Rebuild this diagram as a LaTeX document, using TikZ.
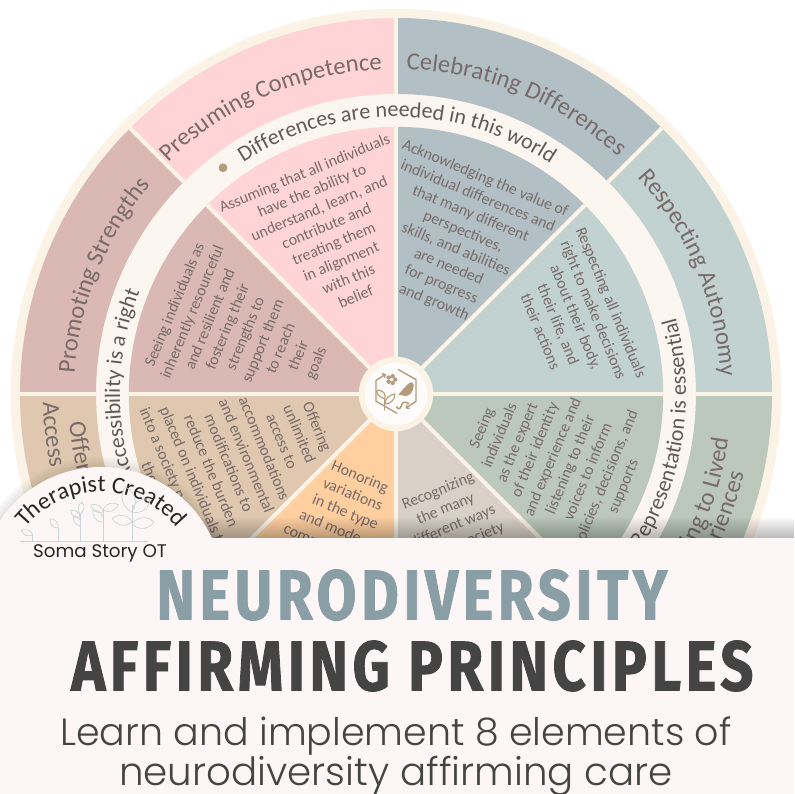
\documentclass[tikz,border=0pt]{standalone}
\usepackage{fontspec}
\usepackage{xcolor}
\usetikzlibrary{arrows.meta,decorations.text,fadings}
\setmainfont{Carlito}
\newfontfamily\headfont[FakeStretch=0.82,LetterSpace=6.8,FakeBold=1.2]{Fira Sans}
\newfontfamily\subfont{Poppins Light}
\newfontfamily\badgesub{Poppins}
\definecolor{creamedge}{HTML}{FCF3E7}
\definecolor{creamband}{HTML}{FCF6F1}
\definecolor{tealtone}{HTML}{C2D2D0}
\definecolor{bluetone}{HTML}{B2C0C5}
\definecolor{pinktone}{HTML}{FFD4D7}
\definecolor{rosetone}{HTML}{DAB9B4}
\definecolor{tantone}{HTML}{DFC8AF}
\definecolor{orangetone}{HTML}{FFCFA0}
\definecolor{greigetone}{HTML}{D9D1C8}
\definecolor{sagetone}{HTML}{BCC8BC}
\definecolor{inkbrown}{HTML}{786B69}
\definecolor{inkband}{HTML}{5F5A55}
\definecolor{iconbrown}{HTML}{B49B7C}
\definecolor{panelpink}{HTML}{FDF6F6}
\definecolor{titleblue}{HTML}{8A9EA6}
\definecolor{titledark}{HTML}{444444}
\definecolor{sproutgrey}{HTML}{C9D5D8}
\newcommand{\ringfont}{\fontsize{17.5}{17.5}\selectfont\color{inkbrown}}
\newcommand{\bandfont}{\fontsize{15.7}{15.7}\selectfont\color{inkband}}
\newcommand{\badgefont}{\fontsize{17}{17}\selectfont\color{black!85}}
% text on an arc: format, from angle, to angle, radius, alignment, text
\newcommand{\arctext}[6]{\path[decorate,decoration={text along path,text={|#1|#6},text align=#5}]
    (#2:#4) arc[start angle=#2,end angle=#3,radius=#4];}
\tikzset{
    wedgetext/.style={anchor=north,align=center,inner sep=0pt,text=inkbrown,
        font=\fontsize{11.3}{13.6}\selectfont},
    gapline/.style={creamedge,line width=3pt},
    iconline/.style={iconbrown,line width=1pt,line cap=round,line join=round},
    sprout/.style={sproutgrey,line width=0.5pt}
}
\begin{document}
\begin{tikzpicture}
    \useasboundingbox (-9.9,-10) rectangle (9.95,9.85);
    \clip (-9.9,-10) rectangle (9.95,9.85);
    \fill[white] (-9.9,-10) rectangle (9.95,9.85);

    \def\rcore{6.68}
    \def\rband{7.5}
    \def\rring{9.4}

    % Wheel base
    \fill[creamedge] (0,0) circle (9.63);
    \fill[creamband] (0,0) circle (\rband);

    % Sectors
    \foreach \ang/\tone in {0/tealtone,45/bluetone,90/pinktone,135/rosetone,
                            180/tantone,225/orangetone,270/greigetone,315/sagetone} {
        \fill[\tone] (0,0) -- (\ang:\rcore) arc[start angle=\ang,delta angle=45,radius=\rcore] -- cycle;
        \fill[\tone] (\ang:\rband) arc[start angle=\ang,delta angle=45,radius=\rband]
            -- ({\ang+45}:\rring) arc[start angle=\ang+45,delta angle=-45,radius=\rring] -- cycle;
    }
    \foreach \ang in {0,45,...,315} {
        \draw[gapline] (0,0) -- (\ang:\rcore);
        \draw[gapline] (\ang:\rband) -- (\ang:\rring);
    }

    % Outer ring labels
    \arctext{\ringfont}{143.5}{83.5}{8.12}{center}{Presuming Competence}
    \arctext{\ringfont}{96}{39}{8.12}{center}{Celebrating Differences}
    \arctext{\ringfont}{52}{-7}{8.12}{center}{Respecting Autonomy}
    \arctext{\ringfont}{188}{128}{8.05}{center}{Promoting Strengths}
    \arctext{\ringfont}{-50}{5}{8.38}{center}{Listening to Lived}
    \arctext{\ringfont}{-50}{5}{8.92}{center}{Experiences}
    \arctext{\ringfont}{185}{230}{8.2}{left}{Offering}
    \arctext{\ringfont}{181.3}{230}{8.83}{left}{Access}

    % Band labels
    \fill[iconbrown] (127.4:7.12) circle (0.11);
    \arctext{\bandfont}{130}{49.6}{6.93}{center}{Differences are needed in this world}
    \arctext{\bandfont}{205}{151}{6.9}{center}{Accessibility is a right}
    \arctext{\bandfont}{-40}{23}{7.25}{center}{Representation is essential}

    % Sector texts
    \node[wedgetext,rotate=22.5] (competence) at (112.5:6.13)
        {Assuming that all individuals\\have the ability to\\understand, learn, and\\contribute and\\treating them\\in alignment\\with this\\belief};
    \node[wedgetext,rotate=67.5] (strengths) at (158:6.13)
        {Seeing individuals as\\inherently resourceful\\and resilient and\\fostering their\\strengths to\\support them\\to reach\\their\\goals};
    \node[wedgetext,rotate=-22.5] (differences) at (67.5:6.0)
        {Acknowledging the value of\\individual differences and\\that many different\\perspectives,\\skills, and abilities\\are needed\\for progress\\and growth};
    \node[wedgetext,rotate=-67.5] (autonomy) at (23:6.0)
        {Respecting all individuals\\right to make decisions\\about their body,\\their life, and\\their actions};
    \node[wedgetext,rotate=67.5] (experiences) at (-21.5:2.15)
        {Seeing\\individuals\\as the expert\\of their identity\\and experience and\\listening to their\\voices to inform\\policies, decisions, and\\supports};
    \node[wedgetext,rotate=22.5] (ways) at (-66.5:2.48)
        {Recognizing\\the many\\different ways\\\hphantom{xxxxxxx}society};
    \node[wedgetext,rotate=-22.5] (variations) at (246.5:2.1)
        {Honoring\\variations\\in the type\\and mode of\\communication};
    \node[wedgetext,rotate=-67.5] (access) at (202.5:1.98)
        {Offering\\unlimited\\access to\\accommodations\\and environmental\\modifications to\\reduce the burden\\placed on individuals to\\into a society not\hphantom{ built for}\\the\hphantom{ needs}};

    % Hub
    \fill[creamedge] (0,0) circle (0.93);
    \fill[white!70!creamband] (0,0) circle (0.78);
    \draw[iconline,-{Straight Barb[length=1.6pt,width=3.4pt]}]
        (0.06,0.61) -- (0.5,0.36) -- (0.5,-0.18) -- (0.24,-0.36);
    \draw[iconline,-{Straight Barb[length=1.6pt,width=3.4pt]}]
        (0.02,-0.48) -- (-0.5,-0.18) -- (-0.5,0.34) -- (-0.25,0.5);
    \foreach \ang in {0,72,...,288}
        \fill[iconbrown] ([shift={(-0.11,0.36)}]\ang:0.09) circle (0.055);
    \draw[iconline,line width=0.8pt] (-0.28,-0.4) -- (-0.28,-0.12);
    \draw[iconline,line width=0.8pt] (-0.28,-0.12) .. controls (-0.5,-0.05) and (-0.5,0.08) .. (-0.45,0.1)
        .. controls (-0.3,0.08) and (-0.25,0) .. (-0.28,-0.12);
    \draw[iconline,line width=0.8pt] (-0.28,-0.25) .. controls (-0.1,-0.25) and (-0.02,-0.1) .. (-0.03,0)
        .. controls (-0.15,-0.02) and (-0.27,-0.1) .. (-0.28,-0.25);
    \fill[iconbrown] (0.06,-0.02) .. controls (0.14,0.08) and (0.22,0.18) .. (0.34,0.28)
        .. controls (0.4,0.32) and (0.46,0.25) .. (0.44,0.18)
        .. controls (0.42,0.05) and (0.36,-0.02) .. (0.26,-0.05) -- cycle;
    \draw[iconline,line width=1.1pt] (0.02,-0.32) .. controls (0.05,-0.42) and (0.12,-0.36) .. (0.14,-0.28)
        .. controls (0.16,-0.2) and (0.22,-0.18) .. (0.32,-0.24);

    % Bottom panel with its shadow
    \fill[black,path fading=north,fill opacity=0.27] (-9.9,-3.6) rectangle (9.95,-3.05);
    \fill[panelpink] (-9.9,-10) rectangle (9.95,-3.6);

    % Badge
    \foreach \grow in {0.05,0.1,...,0.3}
        \fill[black,fill opacity=0.018] (-7.375,-4.875) circle ({3.05+\grow});
    \fill[panelpink] (-7.375,-4.875) circle (3.05);
    \fill[panelpink] (-9.9,-10) rectangle (9.95,-3.6);
    \begin{scope}[shift={(-7.375,-4.875)}]
        \arctext{\badgefont}{165}{15}{2.43}{center}{Therapist Created}
    \end{scope}
    \node[font=\badgesub\fontsize{13}{13}\selectfont,text=black!85] (somastory) at (-7.4,-3.975) {Soma Story OT};

    % Sprouts on their ground line
    \draw[sprout] (-9.4,-3.675) -- (-6.2,-3.675);
    \foreach \xbase/\ybase in {-9.08/0.15,-8.45/0.33,-7.9/0.7,-7.32/0.82,-6.6/0.9}
        \draw[sprout] (\xbase,-3.675) -- (\xbase,{-3.675+\ybase});
    \foreach \xleaf/\yleaf/\tilt/\size in {-9.08/-3.52/160/0.3,-8.45/-3.35/130/0.3,
            -7.9/-3.3/120/0.3,-7.9/-3.1/140/0.3,-7.9/-3.0/80/0.3,
            -7.32/-3.2/130/0.4,-7.32/-2.95/150/0.35,-7.32/-2.9/20/0.4,
            -6.6/-3.2/170/0.5,-6.6/-3.25/5/0.55,-6.6/-2.95/105/0.65,-6.6/-2.95/35/0.55} {
        \draw[sprout,shift={(\xleaf,\yleaf)},rotate=\tilt,scale=\size]
            (0,0) .. controls (0.3,0.35) and (0.75,0.3) .. (1,0) .. controls (0.75,-0.3) and (0.3,-0.35) .. (0,0);
    }

    % Titles
    \node[font=\headfont\bfseries\fontsize{50}{50}\selectfont,text=titleblue] (heading) at (0.4,-5.025) {NEURODIVERSITY};
    \node[font=\headfont\bfseries\fontsize{50}{50}\selectfont,text=titledark] (subheading) at (0.41,-6.8) {AFFIRMING PRINCIPLES};
    \node[font=\subfont\fontsize{27}{27}\selectfont,text=titledark] (learnline) at (0,-8.55) {Learn and implement 8 elements of};
    \node[font=\subfont\fontsize{27.6}{27.6}\selectfont,text=titledark] (careline) at (0,-9.55) {neurodiversity affirming care};
\end{tikzpicture}
\end{document}
